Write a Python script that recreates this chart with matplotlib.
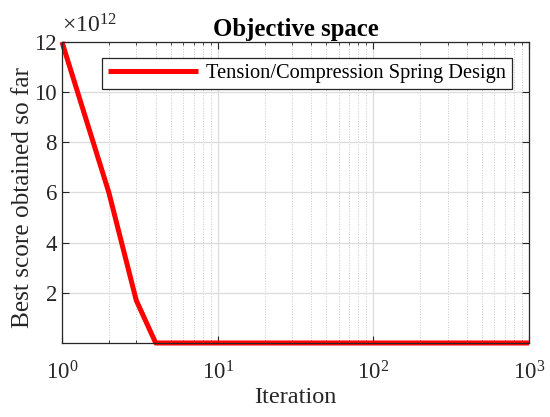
import matplotlib
matplotlib.use("Agg")
import matplotlib.pyplot as plt
from matplotlib.ticker import FuncFormatter, LogLocator, NullFormatter

# convergence curve
iterations = [1, 2, 3, 4, 1000]
best_score = [12.0e12, 6.0e12, 1.7e12, 0.0127, 0.0127]
series_name = "Tension/Compression Spring Design"

y_ticks = [2e12, 4e12, 6e12, 8e12, 10e12, 12e12]

plt.rcParams["font.family"] = "Liberation Serif"
plt.rcParams["mathtext.fontset"] = "custom"
plt.rcParams["mathtext.rm"] = "Liberation Serif"
plt.rcParams["mathtext.it"] = "Liberation Serif:italic"
plt.rcParams["mathtext.bf"] = "Liberation Serif:bold"

fig = plt.figure(figsize=(5.5, 4.17), dpi=100)
ax = fig.add_axes([0.1127, 0.1775, 0.8491, 0.7218])

ax.semilogx(iterations, best_score, color="#ff0000", lw=3.6,
            label=series_name, clip_on=False, solid_capstyle="butt")

ax.set_xlim(1, 1000)
ax.set_ylim(0, 12e12)
ax.set_yticks(y_ticks)
ax.yaxis.set_major_formatter(FuncFormatter(lambda v, _: f"{v / 1e12:g}"))
ax.xaxis.set_major_locator(LogLocator(base=10, numticks=10))
ax.xaxis.set_minor_locator(LogLocator(base=10, subs=range(2, 10), numticks=20))
ax.xaxis.set_minor_formatter(NullFormatter())

ax.grid(True, which="major", color="#dcdcdc", lw=0.9, ls="-")
ax.grid(True, which="minor", axis="x", color="#c8c8c8", lw=0.7, ls=":")
ax.set_axisbelow(True)

for s in ax.spines.values():
    s.set_color("#262626")
    s.set_linewidth(0.9)
ax.tick_params(which="both", direction="in", top=True, right=True,
               colors="#262626", labelsize=16.5, labelcolor="#262626")
ax.tick_params(which="major", length=5)
ax.tick_params(which="minor", length=2.5)
ax.tick_params(axis="y", pad=3.5)
ax.tick_params(axis="x", pad=13)

ax.text(0.0, 1.015, r"$\times10^{12}$", transform=ax.transAxes,
        fontsize=17, color="#262626", ha="left", va="bottom")

ax.set_title("Objective space", fontsize=17.8, fontweight="bold", pad=4)
ax.set_xlabel("Iteration", fontsize=17.5, color="#262626", labelpad=2)
ax.set_ylabel("Best score obtained so far", fontsize=18.2, color="#262626",
              labelpad=0)
ax.yaxis.label.set_y(0.484)

leg = ax.legend(loc="upper right", bbox_to_anchor=(0.964, 0.947), fontsize=14.7,
                fancybox=False, framealpha=1, edgecolor="#262626",
                handlelength=4.4, borderpad=0.3, handletextpad=0.4,
                borderaxespad=0)
leg.get_frame().set_linewidth(0.9)

fig.savefig("out.png", dpi=100)
